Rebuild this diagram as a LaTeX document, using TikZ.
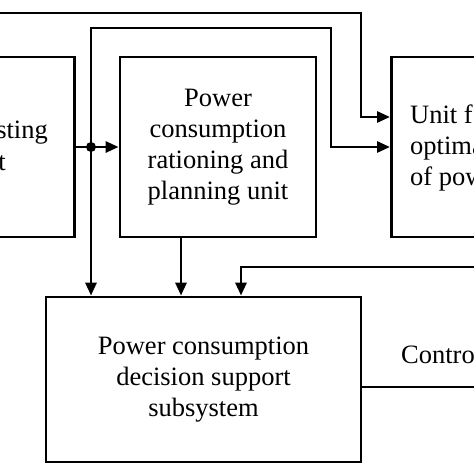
\documentclass[tikz,border=0pt]{standalone}
\usepackage{fontspec}
\setmainfont{Liberation Serif}
\usetikzlibrary{arrows.meta}
\begin{document}
\begin{tikzpicture}[x=1pt,y=-1pt,
  blk/.style={draw, line width=2.8pt, inner sep=0pt, minimum height=180pt, align=center, font=\fontsize{26.5}{31}\selectfont},
  txt/.style={inner sep=0pt, font=\fontsize{26.5}{31}\selectfont},
  wire/.style={line width=2.8pt},
  arr/.style={wire, -{Triangle[length=13pt,width=11pt]}}]
\useasboundingbox (0,0) rectangle (474,474);
\clip (0,0) rectangle (474,474);
\fill[white] (0,0) rectangle (474,474);
% Drawing blocks
\node[blk, minimum width=200pt, anchor=east] (fcst) at (76,147) {};
\node[txt, anchor=base east] (fcsta) at (48,138) {sting};
\node[txt, anchor=base east] (fcstb) at (6,170) {t};
\node[blk, minimum width=196pt] (plan) at (218,147) {Power\\consumption\\rationing and\\planning unit};
\node[blk, minimum width=220pt, anchor=west] (opt) at (390,147) {};
\node[txt, align=left, anchor=west] (opttxt) at (410,148) {Unit f\\optima\\of pow};
\node[blk, minimum width=315pt, minimum height=165pt] (dss) at (203.5,379.5) {Power consumption\\decision support\\subsystem};
\node[txt, anchor=base west] (ctrl) at (401,363) {Contro};
% Done with blocks; drawing wires
\coordinate (topin) at (-5,13);
\coordinate (jn) at (91,147);
\coordinate (fbin) at (480,267);
\coordinate (ctrlout) at (480,387);
\draw[arr] (topin) -- (361,13) -- (361,117) -- (opt.west |- 0,117);
\draw[arr] (fcst.east) -- (plan.west);
\draw[arr] (jn) -- (jn |- 0,28) -- (331,28) -- (331,147) -- (opt.west);
\draw[arr] (jn) -- (jn |- dss.north);
\fill (jn) circle (5pt);
\draw[arr] (plan.south -| 181,0) -- (dss.north -| 181,0);
\draw[arr] (fbin) -- (241,267) -- (dss.north -| 241,0);
\draw[wire] (dss.east |- ctrlout) -- (ctrlout);
% Done with wires
\end{tikzpicture}
\end{document}
